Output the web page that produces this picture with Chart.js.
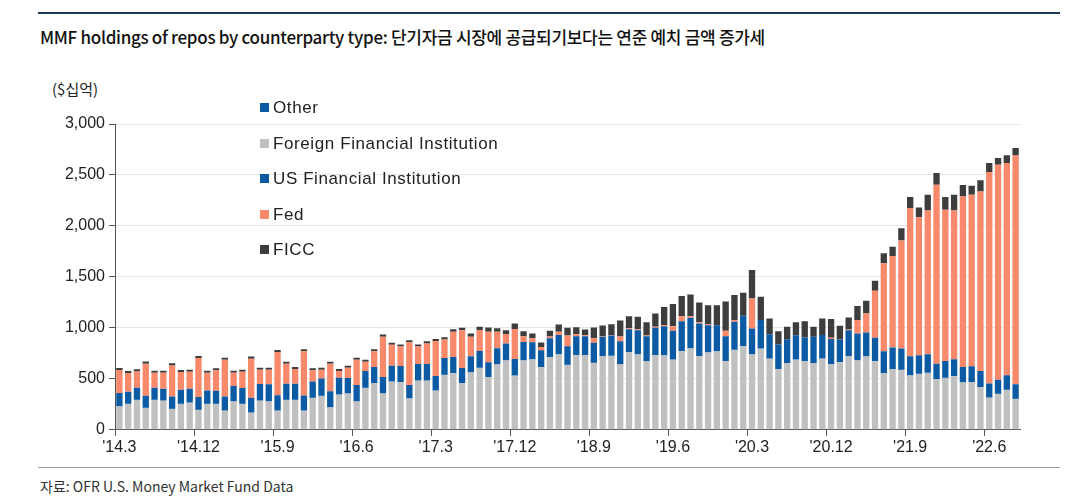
<!DOCTYPE html>
<html><head><meta charset="utf-8">
<script src="https://cdn.jsdelivr.net/npm/chart.js@4"></script>
<style>
body{margin:0;width:1086px;height:504px;background:#fff;font-family:"Noto Sans CJK KR","Liberation Sans",sans-serif;position:relative;overflow:hidden}
#topline{position:absolute;left:38px;top:12px;width:1022px;height:2px;background:#1f3a5a}
#title{position:absolute;left:40px;top:24px;font-size:17px;color:#111;letter-spacing:-0.3px;font-weight:500}
#unit{position:absolute;left:52px;top:78px;font-size:15px;color:#222}
#wrap{position:absolute;left:40px;top:100px;width:1000px;height:359px}
#botline{position:absolute;left:38px;top:467px;width:1022px;height:1px;background:#999}
#src{position:absolute;left:40px;top:476px;font-size:14px;color:#333}
#legend{position:absolute;left:260px;top:90px;font-family:"Liberation Sans",Arial,sans-serif;font-size:17px;letter-spacing:0.6px;color:#222;line-height:35.5px}
#legend span.sq{display:inline-block;width:9px;height:9px;margin-right:4px;vertical-align:1px}
</style></head><body>
<div id="topline"></div>
<div id="title">MMF holdings of repos by counterparty type: 단기자금 시장에 공급되기보다는 연준 예치 금액 증가세</div>
<div id="unit">($십억)</div>
<div id="wrap"><canvas id="c"></canvas></div>
<div id="legend"></div>
<div id="botline"></div>
<div id="src">자료: OFR U.S. Money Market Fund Data</div>
<script>
const startYear=2014, startMonth=3, nBars=103;
const categories=[];
for(let i=0;i<nBars;i++){const m=startMonth-1+i;categories.push("'"+String((startYear+Math.floor(m/12))%100)+"."+(m%12+1));}
const foreign=[229,252,292,213,292,285,203,252,265,193,252,252,187,278,252,167,285,278,187,292,292,187,311,331,219,344,357,278,410,456,357,472,466,308,482,482,384,538,554,456,561,607,515,640,679,531,679,689,613,712,738,636,731,731,656,722,725,640,761,738,672,731,728,686,771,797,722,758,768,672,784,820,738,794,696,594,653,686,672,653,696,640,663,719,679,719,672,555,594,587,532,548,558,496,508,525,463,466,417,315,351,391,302];
const usFin=[128,118,118,118,118,115,121,138,135,125,131,128,137,148,154,144,161,165,150,157,157,147,161,170,155,164,148,158,164,157,158,154,157,128,161,161,141,164,158,148,157,164,144,157,164,161,180,167,164,183,190,181,184,184,194,187,197,226,223,236,243,266,285,282,292,299,318,265,255,243,272,295,253,279,239,239,233,239,230,256,232,249,220,255,263,232,227,213,210,207,186,180,180,150,165,164,151,154,157,135,138,141,141];
const fed=[226,184,160,315,147,157,305,173,167,383,174,200,361,131,161,384,140,143,423,196,144,433,108,85,271,65,101,249,91,154,396,206,190,420,170,200,344,180,246,370,191,203,299,161,95,295,56,39,33,17,30,105,20,10,45,6,6,46,10,10,7,10,10,45,49,16,13,10,0,53,17,0,295,0,0,0,0,0,0,0,0,10,0,7,131,187,462,862,899,1059,1454,1355,1411,1755,1482,1460,1672,1683,1762,2076,2109,2082,2244];
const ficc=[20,20,20,20,20,20,20,20,20,20,20,20,20,20,20,20,20,20,20,20,20,20,20,20,20,20,20,20,20,20,20,20,20,20,20,23,20,23,26,23,32,33,42,36,36,53,49,46,43,56,72,75,69,56,105,105,105,157,118,121,131,131,178,217,197,213,193,187,197,288,246,227,279,229,154,132,121,128,161,98,161,184,134,118,138,125,99,99,91,122,108,95,154,115,125,154,112,88,108,88,66,76,75];
const other=new Array(nBars).fill(3);
const yTicks=[0,500,1000,1500,2000,2500,3000];
const seriesNames=["Other","Foreign Financial Institution","US Financial Institution","Fed","FICC"];
const colors=["#0b5aa3","#c0c0c0","#0b5aa3","#f88a6b","#3d3d3d"];
const data=[other,foreign,usFin,fed,ficc];

document.getElementById('legend').innerHTML=seriesNames.map((n,i)=>'<div><span class="sq" style="background:'+colors[i]+'"></span>'+n+'</div>').join('');

new Chart(document.getElementById('c'),{
 type:'bar',
 data:{labels:categories,datasets:[1,0,2,3,4].map(i=>({label:seriesNames[i],data:data[i],backgroundColor:colors[i],barPercentage:0.72,categoryPercentage:1,borderWidth:0}))},
 options:{responsive:true,maintainAspectRatio:false,animation:false,
  layout:{padding:{left:0,right:20,top:24,bottom:0}},
  plugins:{legend:{display:false},tooltip:{enabled:false}},
  scales:{
   x:{stacked:true,offset:true,
     grid:{drawOnChartArea:false,tickLength:6,color:(ctx)=>ctx.index%9===0?'#555':'rgba(0,0,0,0)'},
     border:{color:'#555'},
     ticks:{autoSkip:false,maxRotation:0,color:'#222',font:{family:'Liberation Sans',size:16},padding:2,
       callback:(v,i)=>i%9===0?categories[i]:''}},
   y:{stacked:true,min:0,max:3000,
     afterBuildTicks:(ax)=>{ax.ticks=yTicks.map(v=>({value:v}));},
     afterFit:(ax)=>{ax.width=75;},
     grid:{color:'#e6e6e6',drawTicks:true,tickLength:6,tickColor:'#555'},
     border:{color:'#555'},
     ticks:{color:'#222',font:{family:'Liberation Sans',size:16},padding:4,callback:v=>v.toLocaleString('en-US')}}
  }}
});
</script>
</body></html>
